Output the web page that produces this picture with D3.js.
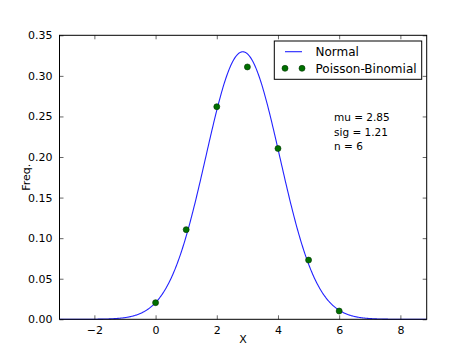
<!DOCTYPE html>
<html>
<head>
<meta charset="utf-8">
<script src="https://cdn.jsdelivr.net/npm/d3@7"></script>
<style>
  body { margin: 0; background: #fff; }
  text { font-family: "DejaVu Sans", sans-serif; }
</style>
</head>
<body>
<div id="chart"></div>
<script>
// parameters of the fitted normal
const mu = 2.85;
const sig = 1.21;
const nTrials = 6;

// Poisson-Binomial frequencies
const kValues = [0, 1, 2, 3, 4, 5, 6];
const freqs = [0.0205, 0.1105, 0.262, 0.311, 0.2105, 0.073, 0.0102];

const xTicks = [-2, 0, 2, 4, 6, 8];
const yTicks = [0, 0.05, 0.10, 0.15, 0.20, 0.25, 0.30, 0.35];
const annotLines = ["mu = 2.85", "sig = 1.21", "n = 6"];

const width = 474, height = 355;
const margin = {left: 59.5, top: 35.3, right: 474 - 426.7, bottom: 355 - 319.3};

const svg = d3.select("#chart").append("svg")
    .attr("width", width)
    .attr("height", height);

const x = d3.scaleLinear().domain([-3.14, 8.86]).range([margin.left, width - margin.right]);
const y = d3.scaleLinear().domain([0, 0.35]).range([height - margin.bottom, margin.top]);

// normal curve
const xs = d3.range(-3.14, 8.87, 0.02);
const normal = xs.map(v => [v, Math.exp(-0.5 * ((v - mu) / sig) ** 2) / (sig * Math.sqrt(2 * Math.PI))]);

svg.append("path")
    .datum(normal)
    .attr("fill", "none")
    .attr("stroke", "#2222ff")
    .attr("stroke-width", 1.1)
    .attr("d", d3.line().x(d => x(d[0])).y(d => y(d[1])));

svg.selectAll("circle.pb")
    .data(kValues.map((k, i) => [k, freqs[i]]))
    .enter()
    .append("circle")
    .attr("class", "pb")
    .attr("cx", d => x(d[0]))
    .attr("cy", d => y(d[1]))
    .attr("r", 3)
    .attr("fill", "#007000")
    .attr("stroke", "#003300")
    .attr("stroke-width", 0.6);

// axes, ticks inside on all sides
const tickSize = 4;
const axes = [
    d3.axisBottom(x).tickValues(xTicks).tickSizeInner(-tickSize).tickSizeOuter(0).tickPadding(7)
        .tickFormat(d => d < 0 ? "\u2212" + Math.abs(d) : d),
    d3.axisTop(x).tickValues(xTicks).tickSizeInner(-tickSize).tickSizeOuter(0).tickFormat(""),
    d3.axisLeft(y).tickValues(yTicks).tickSizeInner(-tickSize).tickSizeOuter(0).tickPadding(7)
        .tickFormat(d3.format(".2f")),
    d3.axisRight(y).tickValues(yTicks).tickSizeInner(-tickSize).tickSizeOuter(0).tickFormat("")
];
const translates = [
    `translate(0,${height - margin.bottom})`,
    `translate(0,${margin.top})`,
    `translate(${margin.left},0)`,
    `translate(${width - margin.right},0)`
];
axes.forEach((ax, i) => {
    const g = svg.append("g").attr("transform", translates[i]).call(ax);
    g.select(".domain").remove();
    g.selectAll(".tick line").attr("stroke", "#000").attr("stroke-width", 0.6);
    g.selectAll(".tick text").attr("font-size", 11).attr("fill", "#000")
        .attr("font-family", "DejaVu Sans, sans-serif");
});

svg.append("rect")
    .attr("x", margin.left)
    .attr("y", margin.top)
    .attr("width", width - margin.right - margin.left)
    .attr("height", height - margin.bottom - margin.top)
    .attr("fill", "none")
    .attr("stroke", "#000")
    .attr("stroke-width", 1);

// axis labels
svg.append("text")
    .attr("x", (margin.left + width - margin.right) / 2)
    .attr("y", 343)
    .attr("text-anchor", "middle")
    .attr("font-size", 11)
    .text("X");

svg.append("text")
    .attr("transform", `translate(30,${(margin.top + height - margin.bottom) / 2}) rotate(-90)`)
    .attr("text-anchor", "middle")
    .attr("font-size", 11)
    .text("Freq.");

// legend
const legend = svg.append("g");
legend.append("rect")
    .attr("x", 274.3).attr("y", 41)
    .attr("width", 147.4).attr("height", 38.3)
    .attr("fill", "#fff").attr("stroke", "#000").attr("stroke-width", 1);
legend.append("line")
    .attr("x1", 285).attr("x2", 302).attr("y1", 51.7).attr("y2", 51.7)
    .attr("stroke", "#2222ff").attr("stroke-width", 1.1);
legend.selectAll("circle")
    .data([285, 302])
    .enter().append("circle")
    .attr("cx", d => d).attr("cy", 68.3).attr("r", 3)
    .attr("fill", "#007000").attr("stroke", "#003300").attr("stroke-width", 0.6);
legend.selectAll("text")
    .data(["Normal", "Poisson-Binomial"])
    .enter().append("text")
    .attr("x", 315.5)
    .attr("y", (d, i) => 56 + i * 16.6)
    .attr("font-size", 12)
    .text(d => d);

// annotation
svg.selectAll("text.annot")
    .data(annotLines)
    .enter().append("text")
    .attr("class", "annot")
    .attr("x", 334)
    .attr("y", (d, i) => 121 + i * 14.5)
    .attr("font-size", 10.5)
    .text(d => d);
</script>
</body>
</html>
